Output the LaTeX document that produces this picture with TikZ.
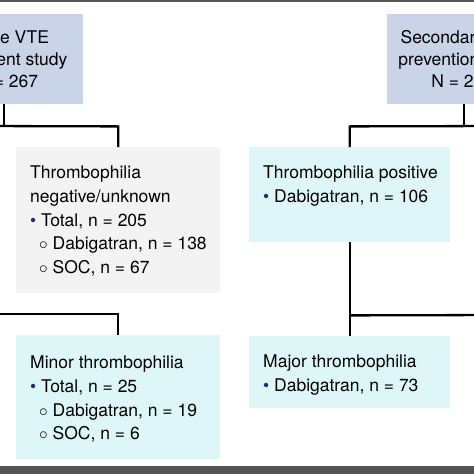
\documentclass[tikz,border=0pt]{standalone}
\usepackage{fontspec}
\setmainfont{TeX Gyre Heros}
\usetikzlibrary{calc}
\usetikzlibrary{positioning}

\definecolor{studyblue}{RGB}{201,212,233}
\definecolor{neggray}{RGB}{243,243,243}
\definecolor{thrombcyan}{RGB}{222,246,248}
\definecolor{bulletblue}{RGB}{30,45,130}
\definecolor{bandgray}{RGB}{85,85,85}

\tikzset{
  box/.style={rectangle, inner sep=0pt, anchor=north west},
  studytext/.style={inner sep=0pt, align=center, font=\fontsize{17.5}{22}\selectfont},
  boxtext/.style={inner sep=0pt, align=left, anchor=north west, font=\fontsize{17.5}{23.6}\selectfont},
  link/.style={line width=2.3pt, black},
}
\newcommand{\itm}{{\color{bulletblue}\textbullet}\ }
\newcommand{\subitm}{\hspace*{9pt}$\circ$\ }

\begin{document}
\begin{tikzpicture}[x=1pt, y=-1pt]

\useasboundingbox (0,0) rectangle (474,474);
\clip (0,0) rectangle (474,474);

% frame bands
\fill[bandgray] (0,0) rectangle (474,2);
\fill[bandgray] (0,466) rectangle (474,474);

% study boxes
\node[box, fill=studyblue, minimum width=158pt, minimum height=90pt] (acute) at (-75,14) {};
\node[box, fill=studyblue, minimum width=154pt, minimum height=90pt] (second) at (387,14) {};
\node[studytext] (acutetxt) at ($(acute.center)+(3,0)$) {Acute VTE\\treatment study\\N = 267};
\node[studytext] (secondtxt) at ($(second.center)+(-2,0)$) {Secondary VTE\\prevention study\\N = 203};

% thrombophilia boxes
\node[box, fill=neggray, minimum width=204pt, minimum height=146pt] (neg) at (16,147) {};
\node[box, fill=thrombcyan, minimum width=204pt, minimum height=124pt] (minor) at (16,335) {};
\node[box, fill=thrombcyan, minimum width=201pt, minimum height=95pt] (pos) at (249,147) {};
\node[box, fill=thrombcyan, minimum width=201pt, minimum height=72pt] (major) at (249,336) {};

\node[boxtext, below right=19pt and 14pt of neg.north west] (negtxt) {Thrombophilia\\negative/unknown\\\itm Total, n = 205\\\subitm Dabigatran, n = 138\\\subitm SOC, n = 67};
\node[boxtext, below right=21pt and 14pt of minor.north west] (minortxt) {Minor thrombophilia\\\itm Total, n = 25\\\subitm Dabigatran, n = 19\\\subitm SOC, n = 6};
\node[boxtext, below right=19pt and 14pt of pos.north west] (postxt) {Thrombophilia positive\\\itm Dabigatran, n = 106};
\node[boxtext, below right=19pt and 14pt of major.north west] (majortxt) {Major thrombophilia\\\itm Dabigatran, n = 73};

% connectors
\coordinate (ljoin) at ($(acute.south)+(0,22)$);
\coordinate (lfar) at (-20,126);
\coordinate (lfar2) at (-20,314);
\coordinate (rjoin) at ($(second.south)+(0,22)$);
\coordinate (rfar) at (500,126);
\coordinate (rbranch) at ($(pos.south)+(0,73)$);
\coordinate (rfar2) at (500,315);

\draw[link] (acute.south) -- (ljoin);
\draw[link] (lfar) -- (neg.north |- ljoin) -- (neg.north);
\draw[link] (lfar2) -- (minor.north |- lfar2) -- (minor.north);

\draw[link] (second.south) -- (rjoin);
\draw[link] (rfar) -- (pos.north |- rjoin) -- (pos.north);
\draw[link] (pos.south) -- (major.north);
\draw[link] (rbranch) -- (rfar2);

\end{tikzpicture}
\end{document}
